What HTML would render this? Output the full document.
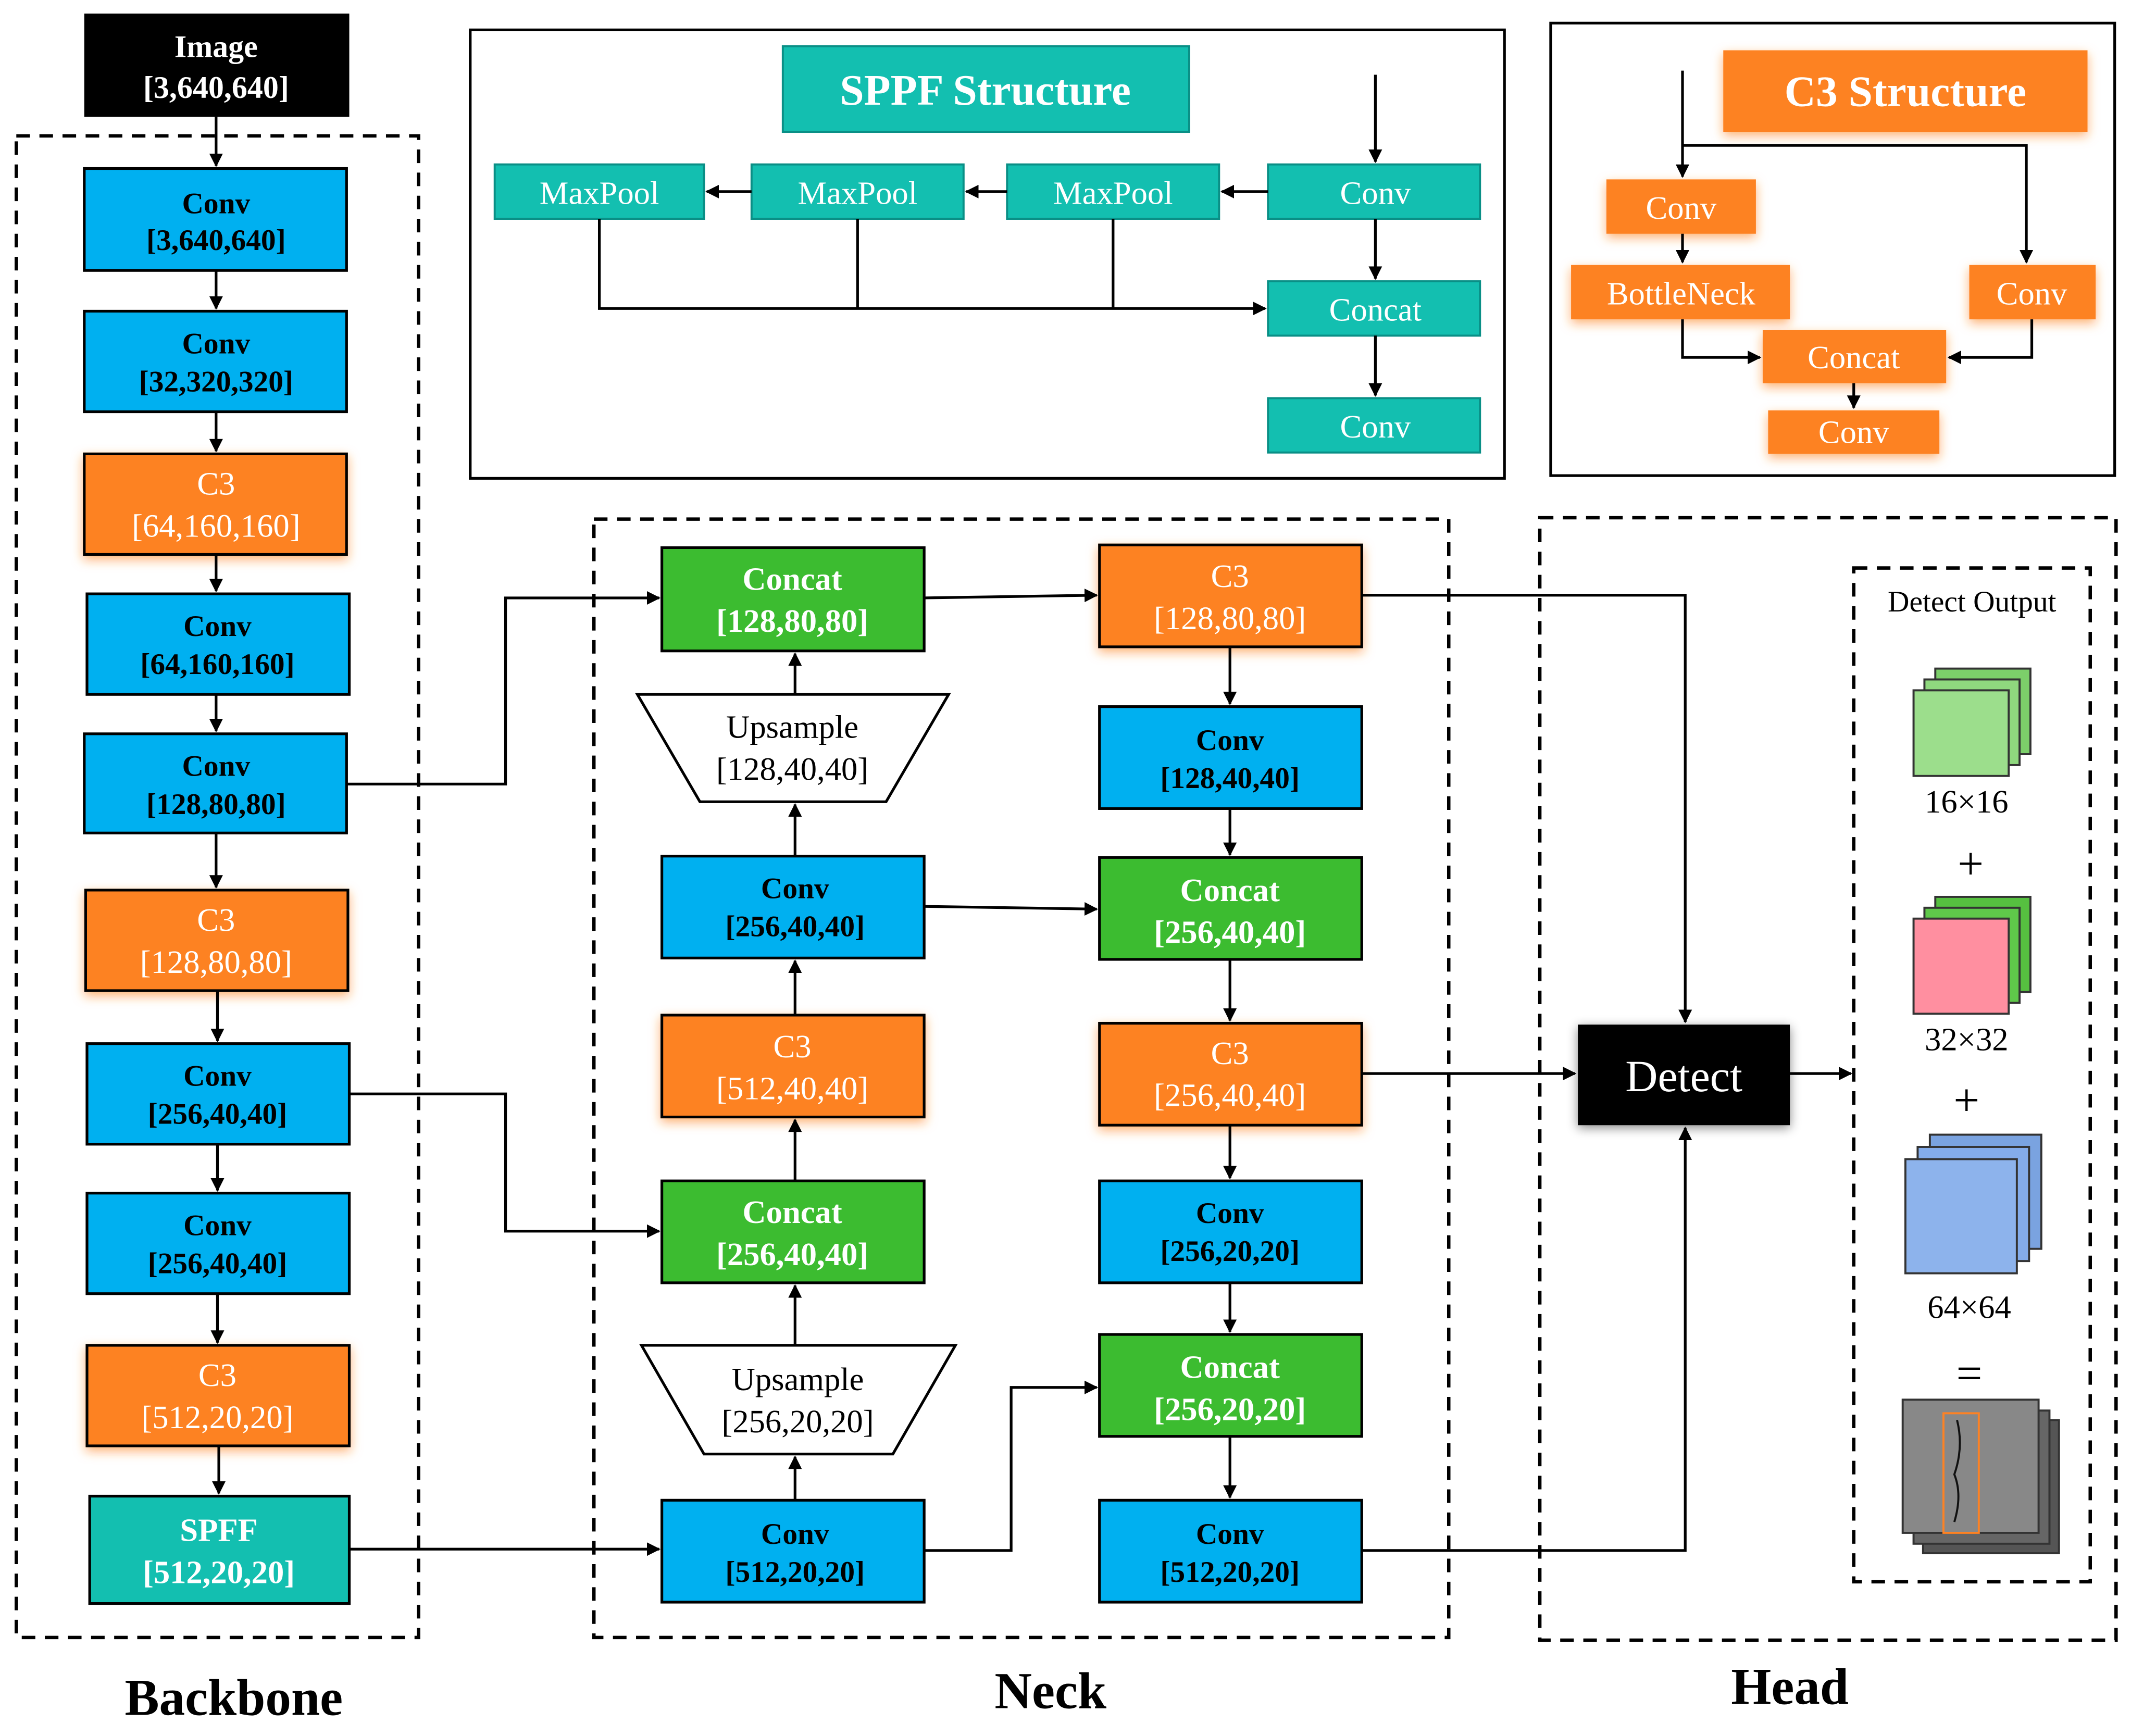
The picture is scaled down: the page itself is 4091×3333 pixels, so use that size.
<!DOCTYPE html>
<html><head><meta charset="utf-8"><style>
html,body{margin:0;padding:0;background:#fff}
svg{display:block}
text{font-family:"Liberation Serif",serif;text-anchor:middle}
</style></head><body>
<svg width="4091" height="3333" viewBox="0 0 1568 1277.5" preserveAspectRatio="none" xmlns="http://www.w3.org/2000/svg">
<defs>
<marker id="a" markerWidth="10" markerHeight="10" refX="9" refY="5" orient="auto" markerUnits="userSpaceOnUse"><path d="M0,0 L10,5 L0,10 z" fill="#000"/></marker>
<filter id="g" x="-20%" y="-20%" width="140%" height="140%"><feDropShadow dx="0" dy="3" stdDeviation="4" flood-color="#fd8224" flood-opacity="0.6"/></filter>
</defs>
<g fill="none" stroke="#000" stroke-width="2.5" stroke-dasharray="10,7">
<rect x="12" y="100" width="296" height="1105"/>
<rect x="437" y="382" width="629" height="823"/>
<rect x="1133" y="381" width="424" height="826"/>
<rect x="1364" y="418" width="174" height="746"/>
</g>
<g fill="none" stroke="#000" stroke-width="2">
<rect x="346" y="22" width="761" height="330"/>
<rect x="1141" y="17" width="415" height="333"/>
</g>
<!-- Image -->
<rect x="62" y="10" width="195" height="76" fill="#000"/>
<text x="159" y="42" font-size="23" font-weight="bold" fill="#fff">Image</text>
<text x="159" y="72" font-size="23" font-weight="bold" fill="#fff">[3,640,640]</text>
<g stroke="#000" stroke-width="2">
<!-- backbone boxes -->
<rect x="62" y="124" width="193" height="75" fill="#00b0f0"/>
<rect x="62" y="229" width="193" height="74" fill="#00b0f0"/>
<rect x="62" y="334" width="193" height="74" fill="#fd8224" filter="url(#g)"/>
<rect x="64" y="437" width="193" height="74" fill="#00b0f0"/>
<rect x="62" y="540" width="193" height="73" fill="#00b0f0"/>
<rect x="63" y="655" width="193" height="74" fill="#fd8224" filter="url(#g)"/>
<rect x="64" y="768" width="193" height="74" fill="#00b0f0"/>
<rect x="64" y="878" width="193" height="74" fill="#00b0f0"/>
<rect x="64" y="990" width="193" height="74" fill="#fd8224" filter="url(#g)"/>
<rect x="66" y="1101" width="191" height="79" fill="#13bfb0"/>
<!-- neck left -->
<rect x="487" y="403" width="193" height="76" fill="#3cbc30"/>
<rect x="487" y="630" width="193" height="75" fill="#00b0f0"/>
<rect x="487" y="747" width="193" height="75" fill="#fd8224" filter="url(#g)"/>
<rect x="487" y="869" width="193" height="75" fill="#3cbc30"/>
<rect x="487" y="1104" width="193" height="75" fill="#00b0f0"/>
<path d="M469,511 L698,511 L652,590 L515,590 Z" fill="#fff"/>
<path d="M472,990 L703,990 L657,1070 L518,1070 Z" fill="#fff"/>
<!-- neck right -->
<rect x="809" y="401" width="193" height="75" fill="#fd8224" filter="url(#g)"/>
<rect x="809" y="520" width="193" height="75" fill="#00b0f0"/>
<rect x="809" y="631" width="193" height="75" fill="#3cbc30"/>
<rect x="809" y="753" width="193" height="75" fill="#fd8224" filter="url(#g)"/>
<rect x="809" y="869" width="193" height="75" fill="#00b0f0"/>
<rect x="809" y="982" width="193" height="75" fill="#3cbc30"/>
<rect x="809" y="1104" width="193" height="75" fill="#00b0f0"/>
</g>
<!-- SPPF -->
<g stroke="#0a8f86" stroke-width="1.5" fill="#13bfb0">
<rect x="576" y="34" width="299" height="63"/>
<rect x="364" y="121" width="154" height="40"/>
<rect x="553" y="121" width="156" height="40"/>
<rect x="741" y="121" width="156" height="40"/>
<rect x="933" y="121" width="156" height="40"/>
<rect x="933" y="207" width="156" height="40"/>
<rect x="933" y="293" width="156" height="40"/>
</g>
<!-- C3 structure -->
<g fill="#fd8224" filter="url(#g)">
<rect x="1268" y="37" width="268" height="60"/>
<rect x="1182" y="132" width="110" height="40"/>
<rect x="1156" y="195" width="161" height="40"/>
<rect x="1449" y="195" width="93" height="40"/>
<rect x="1297" y="243" width="135" height="39"/>
<rect x="1301" y="302" width="126" height="32"/>
</g>
<rect x="1161" y="754" width="156" height="74" fill="#000" filter="url(#g)" style="filter:drop-shadow(0 2px 4px #888)"/>
<!-- lines -->
<g fill="none" stroke="#000" stroke-width="2">
<path d="M159,86 V122" marker-end="url(#a)"/>
<path d="M159,199 V227" marker-end="url(#a)"/>
<path d="M159,303 V332" marker-end="url(#a)"/>
<path d="M159,408 V435" marker-end="url(#a)"/>
<path d="M159,511 V538" marker-end="url(#a)"/>
<path d="M159,613 V653" marker-end="url(#a)"/>
<path d="M160,729 V766" marker-end="url(#a)"/>
<path d="M160,842 V876" marker-end="url(#a)"/>
<path d="M160,952 V988" marker-end="url(#a)"/>
<path d="M161,1064 V1099" marker-end="url(#a)"/>
<path d="M255,577 H372 V440 H485" marker-end="url(#a)"/>
<path d="M257,805 H372 V906 H485" marker-end="url(#a)"/>
<path d="M257,1140 H485" marker-end="url(#a)"/>
<path d="M585,1104 V1072" marker-end="url(#a)"/>
<path d="M585,990 V946" marker-end="url(#a)"/>
<path d="M585,869 V824" marker-end="url(#a)"/>
<path d="M585,747 V707" marker-end="url(#a)"/>
<path d="M585,630 V592" marker-end="url(#a)"/>
<path d="M585,511 V481" marker-end="url(#a)"/>
<path d="M680,440 L807,438" marker-end="url(#a)"/>
<path d="M680,667 L807,669" marker-end="url(#a)"/>
<path d="M680,1141 H744 V1021 H807" marker-end="url(#a)"/>
<path d="M905,476 V518" marker-end="url(#a)"/>
<path d="M905,595 V629" marker-end="url(#a)"/>
<path d="M905,706 V751" marker-end="url(#a)"/>
<path d="M905,828 V867" marker-end="url(#a)"/>
<path d="M905,944 V980" marker-end="url(#a)"/>
<path d="M905,1057 V1102" marker-end="url(#a)"/>
<path d="M1002,438 H1240 V752" marker-end="url(#a)"/>
<path d="M1002,790 H1159" marker-end="url(#a)"/>
<path d="M1002,1141 H1240 V830" marker-end="url(#a)"/>
<path d="M1317,790 H1362" marker-end="url(#a)"/>
<!-- SPPF lines -->
<path d="M1012,55 V119" marker-end="url(#a)"/>
<path d="M933,141 H899" marker-end="url(#a)"/>
<path d="M741,141 H711" marker-end="url(#a)"/>
<path d="M553,141 H520" marker-end="url(#a)"/>
<path d="M441,161 V227 H931" marker-end="url(#a)"/>
<path d="M631,161 V227"/>
<path d="M819,161 V227"/>
<path d="M1012,161 V205" marker-end="url(#a)"/>
<path d="M1012,247 V291" marker-end="url(#a)"/>
<!-- C3 lines -->
<path d="M1238,52 V130" marker-end="url(#a)"/>
<path d="M1238,107 H1491 V193" marker-end="url(#a)"/>
<path d="M1238,172 V193" marker-end="url(#a)"/>
<path d="M1238,235 V263 H1295" marker-end="url(#a)"/>
<path d="M1495,235 V263 H1434" marker-end="url(#a)"/>
<path d="M1364,282 V300" marker-end="url(#a)"/>
</g>
<!-- Detect output icons -->
<g stroke="#333" stroke-width="1.5">
<rect x="1424" y="492" width="70" height="63" fill="#7ccf6a"/>
<rect x="1416" y="500" width="70" height="63" fill="#8fd87e"/>
<rect x="1408" y="508" width="70" height="63" fill="#9cde8c"/>
<rect x="1424" y="660" width="70" height="70" fill="#56c040"/>
<rect x="1416" y="668" width="70" height="70" fill="#5fc84a"/>
<rect x="1408" y="676" width="70" height="70" fill="#ff8fa0"/>
<rect x="1420" y="835" width="82" height="84" fill="#7aa3e0"/>
<rect x="1411" y="844" width="82" height="84" fill="#84acea"/>
<rect x="1402" y="853" width="82" height="84" fill="#8db3ec"/>
<rect x="1415" y="1045" width="100" height="98" fill="#555"/>
<rect x="1408" y="1038" width="100" height="98" fill="#666"/>
<rect x="1400" y="1030" width="100" height="98" fill="#888"/>
</g>
<rect x="1430" y="1040" width="26" height="88" fill="none" stroke="#fd8224" stroke-width="1.5"/>
<path d="M1440,1045 q5,20 -2,40 q6,15 0,35" fill="none" stroke="#111" stroke-width="1.5"/>
<!-- texts -->
<g font-size="22" fill="#000">
<g font-weight="bold">
<text x="159" y="157">Conv</text><text x="159" y="184">[3,640,640]</text>
<text x="159" y="260">Conv</text><text x="159" y="288">[32,320,320]</text>
<text x="160" y="468">Conv</text><text x="160" y="496">[64,160,160]</text>
<text x="159" y="571">Conv</text><text x="159" y="599">[128,80,80]</text>
<text x="160" y="799">Conv</text><text x="160" y="827">[256,40,40]</text>
<text x="160" y="909">Conv</text><text x="160" y="937">[256,40,40]</text>
<text x="585" y="661">Conv</text><text x="585" y="689">[256,40,40]</text>
<text x="585" y="1136">Conv</text><text x="585" y="1164">[512,20,20]</text>
<text x="905" y="552">Conv</text><text x="905" y="580">[128,40,40]</text>
<text x="905" y="900">Conv</text><text x="905" y="928">[256,20,20]</text>
<text x="905" y="1136">Conv</text><text x="905" y="1164">[512,20,20]</text>
</g>
<g font-weight="bold" fill="#fff" font-size="24">
<text x="161" y="1134">SPFF</text><text x="161" y="1165">[512,20,20]</text>
<text x="583" y="434">Concat</text><text x="583" y="465">[128,80,80]</text>
<text x="583" y="900">Concat</text><text x="583" y="931">[256,40,40]</text>
<text x="905" y="663">Concat</text><text x="905" y="694">[256,40,40]</text>
<text x="905" y="1014">Concat</text><text x="905" y="1045">[256,20,20]</text>
</g>
<g fill="#fff" font-size="24">
<text x="159" y="364">C3</text><text x="159" y="395">[64,160,160]</text>
<text x="159" y="685">C3</text><text x="159" y="716">[128,80,80]</text>
<text x="160" y="1020">C3</text><text x="160" y="1051">[512,20,20]</text>
<text x="583" y="778">C3</text><text x="583" y="809">[512,40,40]</text>
<text x="905" y="432">C3</text><text x="905" y="463">[128,80,80]</text>
<text x="905" y="783">C3</text><text x="905" y="814">[256,40,40]</text>
</g>
<g font-size="24">
<text x="583" y="543">Upsample</text><text x="583" y="574">[128,40,40]</text>
<text x="587" y="1023">Upsample</text><text x="587" y="1054">[256,20,20]</text>
</g>
<g fill="#fff" font-size="24">
<text x="441" y="150">MaxPool</text><text x="631" y="150">MaxPool</text><text x="819" y="150">MaxPool</text>
<text x="1012" y="150">Conv</text><text x="1012" y="236">Concat</text><text x="1012" y="322">Conv</text>
<text x="1237" y="161">Conv</text><text x="1237" y="224">BottleNeck</text><text x="1495" y="224">Conv</text>
<text x="1364" y="271">Concat</text><text x="1364" y="326">Conv</text>
</g>
<text x="725" y="77" font-size="32" font-weight="bold" fill="#fff">SPPF Structure</text>
<text x="1402" y="78" font-size="32" font-weight="bold" fill="#fff">C3 Structure</text>
<text x="1239" y="803" font-size="33" fill="#fff">Detect</text>
<text x="1451" y="450" font-size="22">Detect Output</text>
<text x="1447" y="598" font-size="24">16×16</text>
<text x="1450" y="647" font-size="34">+</text>
<text x="1447" y="773" font-size="24">32×32</text>
<text x="1447" y="821" font-size="34">+</text>
<text x="1449" y="970" font-size="24">64×64</text>
<text x="1449" y="1022" font-size="34">=</text>
<text x="172" y="1262" font-size="38" font-weight="bold">Backbone</text>
<text x="773" y="1257" font-size="38" font-weight="bold">Neck</text>
<text x="1317" y="1254" font-size="38" font-weight="bold">Head</text>
</g>
</svg>
</body></html>
